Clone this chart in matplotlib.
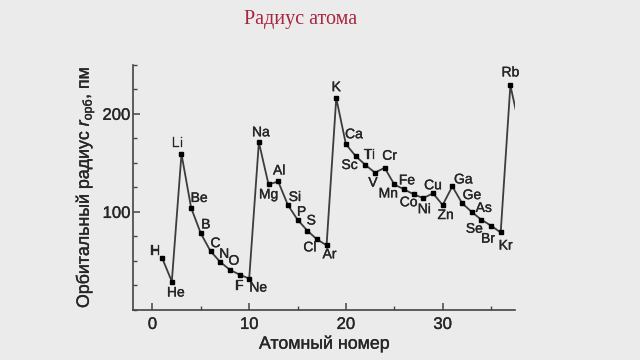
import matplotlib
matplotlib.use("Agg")
import matplotlib.pyplot as plt
import matplotlib.patheffects as pe
from matplotlib.ticker import MultipleLocator, FixedLocator

# ---- data ----
atomic_numbers = list(range(1, 39))
symbols = ["H", "He", "Li", "Be", "B", "C", "N", "O", "F", "Ne",
           "Na", "Mg", "Al", "Si", "P", "S", "Cl", "Ar", "K", "Ca",
           "Sc", "Ti", "V", "Cr", "Mn", "Fe", "Co", "Ni", "Cu", "Zn",
           "Ga", "Ge", "As", "Se", "Br", "Kr", "Rb", "Sr"]
radii = [53, 29, 159, 104, 78, 60, 49, 41, 36, 32,
         171, 128, 131, 107, 92, 81, 72, 66, 216, 169,
         157, 148, 140, 145, 128, 123, 118, 114, 119, 107,
         126, 109, 100, 92, 86, 79, 229, 184]
x_ticks = [0, 10, 20, 30]
y_ticks = [100, 200]

title = "Радиус атома"
x_label = "Атомный номер"
y_label = "Орбитальный радиус $r_{\\mathregular{орб}}$, пм"

# label offsets (pixels: dx right, dy up)
label_offsets = {
    "H": (-7, 7), "He": (4, -11), "Li": (-4, 11), "Be": (8, 10), "B": (5, 9),
    "C": (5, 8), "N": (4, 8), "O": (4, 9), "F": (0, -11), "Ne": (9, -9),
    "Na": (2, 10), "Mg": (0, -10), "Al": (1, 11), "Si": (7, 8), "P": (4, 8),
    "S": (4, 10), "Cl": (-7, -8), "Ar": (3, -9), "K": (0, 11), "Ca": (8, 10),
    "Sc": (-6, -9), "Ti": (4, 10), "V": (-2, -10), "Cr": (5, 12), "Mn": (-6, -9),
    "Fe": (3, 9), "Co": (-5, -8), "Ni": (1, -11), "Cu": (0, 8), "Zn": (3, -10),
    "Ga": (11, 7), "Ge": (10, 8), "As": (12, 4), "Se": (-7, -9), "Br": (-3, -13),
    "Kr": (5, -13), "Rb": (0, 13),
}

# ---- style ----
bg = "#ebebeb"
ink = "#262626"
plt.rcParams["font.family"] = ["Liberation Sans", "DejaVu Sans"]
plt.rcParams["mathtext.fontset"] = "custom"
plt.rcParams["mathtext.rm"] = "Liberation Sans"
plt.rcParams["mathtext.it"] = "Liberation Sans:italic"

thick = [pe.withStroke(linewidth=0.25, foreground=ink)]

fig = plt.figure(figsize=(6.4, 3.6), dpi=100, facecolor=bg)
ax = fig.add_axes([0.208, 0.139, 0.597, 0.681], facecolor=bg)

xmin, xmax = -2, 37.5
ax.plot(atomic_numbers, radii, color="#3c3c3c", lw=1.3, marker="s",
        markersize=3.5, markerfacecolor="black", markeredgecolor="black",
        zorder=3)

for z, s, r in zip(atomic_numbers, symbols, radii):
    if s in label_offsets:
        dx, dy = label_offsets[s]
        ax.annotate(s, (z, r), xytext=(dx, dy), textcoords="offset pixels",
                    ha="center", va="center", fontsize=10, color=ink,
                    path_effects=thick)

ax.set_xlim(xmin, xmax)
ax.set_ylim(0, 250)
ax.xaxis.set_major_locator(FixedLocator(x_ticks))
ax.xaxis.set_minor_locator(FixedLocator([5, 15, 25, 35]))
ax.yaxis.set_major_locator(FixedLocator(y_ticks))
ax.yaxis.set_minor_locator(MultipleLocator(25))

for sp in ["top", "right"]:
    ax.spines[sp].set_visible(False)
for sp in ["left", "bottom"]:
    ax.spines[sp].set_color("#444444")
    ax.spines[sp].set_linewidth(1.2)

ax.tick_params(axis="both", which="major", direction="in", length=5,
               width=1.1, color="#444444", labelsize=12, labelcolor=ink)
ax.tick_params(axis="both", which="minor", direction="in", length=3,
               width=1.0, color="#444444")
ax.tick_params(axis="x", which="major", pad=5)
ax.tick_params(axis="y", which="major", pad=2)
for lab in ax.get_xticklabels() + ax.get_yticklabels():
    lab.set_path_effects(thick)

ax.set_xlabel(x_label, fontsize=12.8, color=ink, labelpad=2,
              path_effects=thick)
ax.set_ylabel(y_label, fontsize=12.8, color=ink, labelpad=4,
              path_effects=thick)

fig.text(0.47, 0.945, title, ha="center", va="center",
         family=["Liberation Serif", "DejaVu Serif"], fontsize=14.5,
         color="#a8243f")

fig.savefig("out.png", dpi=100, facecolor=bg)
